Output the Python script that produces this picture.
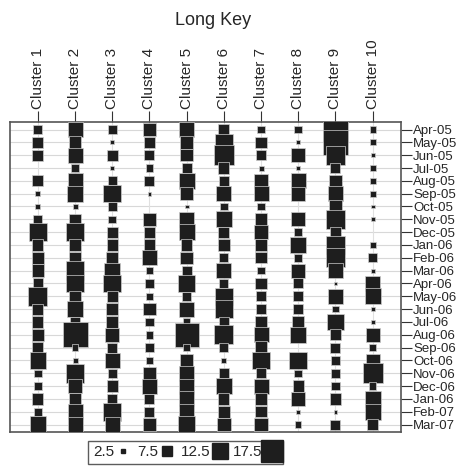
import numpy as np, pandas as pd, matplotlib
matplotlib.use("Agg")
import matplotlib.pyplot as plt, seaborn as sns
from matplotlib.lines import Line2D

months = ["Apr-05","May-05","Jun-05","Jul-05","Aug-05","Sep-05","Oct-05","Nov-05","Dec-05","Jan-06","Feb-06","Mar-06",
          "Apr-06","May-06","Jun-06","Jul-06","Aug-06","Sep-06","Oct-06","Nov-06","Dec-06","Jan-06 ","Feb-07","Mar-07"]
clusters = [f"Cluster {i}" for i in range(1, 11)]
c1 = [7,9,9,0,9,4,4,7,14,9,10,10,8,15,9,9,10,9,13,6,6,9,6,13]
c2 = [12,10,12,6,12,13,4,9,14,10,10,15,14,9,13,8,20,5,4,15,11,10,12,12]
c3 = [7,3,9,3,7,14,7,6,9,9,10,13,14,9,10,10,11,8,12,7,9,8,14,12]
c4 = [11,9,8,6,8,3,0,10,9,9,12,6,7,6,10,7,6,7,6,10,12,8,8,10]
c5 = [12,10,10,8,13,10,3,12,13,9,10,8,14,7,12,6,19,6,10,12,12,12,12,14]
c6 = [9,14,16,9,8,12,6,13,9,10,7,12,7,14,14,8,15,7,4,8,13,9,10,11]
c7 = [6,9,8,4,11,12,6,10,11,9,9,6,9,8,8,9,12,10,14,8,12,9,9,11]
c8 = [6,3,11,3,12,11,0,11,6,13,6,11,8,8,8,10,13,0,14,6,9,11,3,5]
c9 = [20,20,15,8,10,12,10,15,9,15,15,12,3,12,5,13,9,8,7,7,7,9,3,8]
c10 = [5,5,3,5,5,5,3,3,0,5,7,3,12,13,3,3,11,6,11,16,6,13,13,9]
legend_vals = [2.5, 7.5, 12.5, 17.5]
legend_labels = ["2.5", "7.5", "12.5", "17.5"]

series = [c1,c2,c3,c4,c5,c6,c7,c8,c9,c10]
rows = []
for ci, vals in enumerate(series):
    for mi, v in enumerate(vals):
        if v > 0:
            rows.append(dict(x=ci, y=mi, area=v**2))
df = pd.DataFrame(rows)

K = 0.9
sns.set_style("white")
plt.rcParams['font.family'] = ['Liberation Sans', 'DejaVu Sans']
fig = plt.figure(figsize=(4.74, 4.74), dpi=100)
ax = fig.add_axes([0.021, 0.088, 0.824, 0.655])
for mi in range(24):
    ax.axhline(mi, color="#d8d8d8", lw=0.8, zorder=0)
for ci in range(10):
    ax.axvline(ci, color="#e0e0e0", lw=0.8, zorder=0)
sns.scatterplot(data=df, x="x", y="y", size="area", sizes=(0, (20*K)**2), size_norm=(0, 400),
                marker="s", color="#1e1e1e", edgecolor="#cccccc", linewidth=0.5, legend=False, ax=ax, zorder=3)
ax.set_xlim(-0.75, 9.75)
ax.set_ylim(23.6, -0.6)
ax.set_xlabel(""); ax.set_ylabel("")
ax.xaxis.tick_top()
ax.set_xticks(range(10))
ax.set_xticklabels(clusters, rotation=90, fontsize=11)
ax.yaxis.tick_right()
ax.set_yticks(range(24))
ax.set_yticklabels(months, fontsize=9.5)
ax.tick_params(axis="both", length=8, width=0.8, color="#333333", pad=1, left=False, bottom=False)
ax.tick_params(axis="x", top=True)
ax.tick_params(axis="y", right=True)
for s in ax.spines.values():
    s.set_color("#555555"); s.set_linewidth(1.2)
fig.text(0.45, 0.975, "Long Key", ha="center", va="top", fontsize=13)

handles = [Line2D([], [], marker="s", ls="", color="#1e1e1e", markersize=v*K) for v in legend_vals]
leg = fig.legend(handles, legend_labels, loc="lower left", bbox_to_anchor=(0.17, 0.005), ncol=4,
                 frameon=True, fancybox=False, edgecolor="#333333", fontsize=11, handletextpad=0.2,
                 columnspacing=0.5, markerfirst=False, handlelength=0.8, borderpad=0.3)
fig.savefig("out.png", dpi=100)
